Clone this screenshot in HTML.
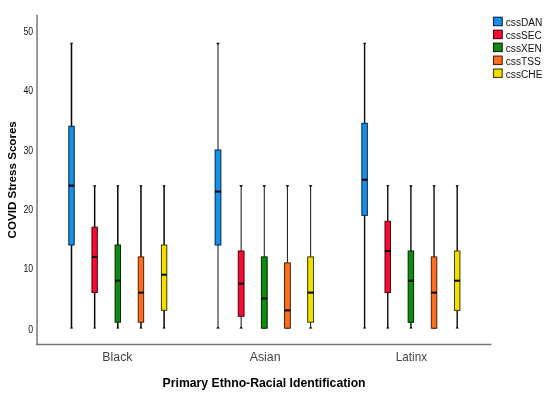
<!DOCTYPE html>
<html><head><meta charset="utf-8"><title>COVID Stress Scores</title>
<style>
html,body{margin:0;padding:0;background:#fff;}
svg{display:block;font-family:"Liberation Sans",Arial,sans-serif;}
.tk{font-size:8.7px;fill:#111;text-anchor:end;}
.cat{font-size:12px;fill:#444;text-anchor:middle;}
.ttl{font-size:12.23px;font-weight:bold;fill:#000;text-anchor:middle;}
.lg{font-size:10.15px;fill:#111;}
</style></head><body>
<svg width="550" height="395" viewBox="0 0 550 395">
<rect width="550" height="395" fill="#fff"/>
<path d="M37.05 14.7V345.1" fill="none" stroke="#8e8e8e" stroke-width="1.8"/><path d="M36.15 344.5H491.5" fill="none" stroke="#747474" stroke-width="1.3"/>
<text class="tk" transform="translate(33.2 332.55) scale(1 1.17)">0</text>
<text class="tk" transform="translate(33.2 272.45) scale(1 1.17)">10</text>
<text class="tk" transform="translate(33.2 213.35) scale(1 1.17)">20</text>
<text class="tk" transform="translate(33.2 154.35) scale(1 1.17)">30</text>
<text class="tk" transform="translate(33.2 94.45) scale(1 1.17)">40</text>
<text class="tk" transform="translate(33.2 35.45) scale(1 1.17)">50</text>
<g><path d="M71.50 43.1V328.2" stroke="#050505" stroke-width="1.5" fill="none"/><path d="M70.00 42.7H73.00L72.10 44.4H70.90ZM70.00 328.6H73.00L72.10 326.9H70.90Z" fill="#0a0a0a"/><rect x="68.80" y="126.2" width="5.4" height="118.8" fill="#1690ea" stroke="#0a2642" stroke-width="1"/><path d="M68.80 185.6H74.20" stroke="#000" stroke-width="2"/></g>
<g><path d="M94.65 185.6V328.2" stroke="#050505" stroke-width="1.5" fill="none"/><path d="M93.15 185.2H96.15L95.25 186.9H94.05ZM93.15 328.6H96.15L95.25 326.9H94.05Z" fill="#0a0a0a"/><rect x="91.95" y="227.2" width="5.4" height="65.3" fill="#fa0a32" stroke="#440610" stroke-width="1"/><path d="M91.95 256.9H97.35" stroke="#000" stroke-width="2"/></g>
<g><path d="M117.80 185.6V328.2" stroke="#050505" stroke-width="1.5" fill="none"/><path d="M116.30 185.2H119.30L118.40 186.9H117.20ZM116.30 328.6H119.30L118.40 326.9H117.20Z" fill="#0a0a0a"/><rect x="115.10" y="245.0" width="5.4" height="77.2" fill="#108a10" stroke="#062606" stroke-width="1"/><path d="M115.10 280.7H120.50" stroke="#000" stroke-width="2"/></g>
<g><path d="M140.95 185.6V328.2" stroke="#050505" stroke-width="1.5" fill="none"/><path d="M139.45 185.2H142.45L141.55 186.9H140.35ZM139.45 328.6H142.45L141.55 326.9H140.35Z" fill="#0a0a0a"/><rect x="138.25" y="256.9" width="5.4" height="65.3" fill="#fd6e1e" stroke="#4c220a" stroke-width="1"/><path d="M138.25 292.6H143.65" stroke="#000" stroke-width="2"/></g>
<g><path d="M164.10 185.6V328.2" stroke="#050505" stroke-width="1.5" fill="none"/><path d="M162.60 185.2H165.60L164.70 186.9H163.50ZM162.60 328.6H165.60L164.70 326.9H163.50Z" fill="#0a0a0a"/><rect x="161.40" y="245.0" width="5.4" height="65.3" fill="#f0e000" stroke="#403a06" stroke-width="1"/><path d="M161.40 274.7H166.80" stroke="#000" stroke-width="2"/></g>
<g><path d="M218.00 43.1V328.2" stroke="#262626" stroke-width="1.1" fill="none"/><path d="M216.10 42.7H219.90L218.60 44.4H217.40ZM216.10 328.6H219.90L218.60 326.9H217.40Z" fill="#0a0a0a"/><rect x="215.10" y="150.0" width="5.8" height="95.0" fill="#1690ea" stroke="#0a2642" stroke-width="1"/><path d="M215.10 191.6H220.90" stroke="#000" stroke-width="2"/></g>
<g><path d="M241.15 185.6V328.2" stroke="#262626" stroke-width="1.1" fill="none"/><path d="M239.25 185.2H243.05L241.75 186.9H240.55ZM239.25 328.6H243.05L241.75 326.9H240.55Z" fill="#0a0a0a"/><rect x="238.25" y="251.0" width="5.8" height="65.3" fill="#fa0a32" stroke="#440610" stroke-width="1"/><path d="M238.25 283.6H244.05" stroke="#000" stroke-width="2"/></g>
<g><path d="M264.30 185.6V328.2" stroke="#262626" stroke-width="1.1" fill="none"/><path d="M262.40 185.2H266.20L264.90 186.9H263.70ZM262.40 328.6H266.20L264.90 326.9H263.70Z" fill="#0a0a0a"/><rect x="261.40" y="256.9" width="5.8" height="71.3" fill="#108a10" stroke="#062606" stroke-width="1"/><path d="M261.40 298.5H267.20" stroke="#000" stroke-width="2"/></g>
<g><path d="M287.45 185.6V328.2" stroke="#262626" stroke-width="1.1" fill="none"/><path d="M285.55 185.2H289.35L288.05 186.9H286.85ZM285.55 328.6H289.35L288.05 326.9H286.85Z" fill="#0a0a0a"/><rect x="284.55" y="262.9" width="5.8" height="65.3" fill="#fd6e1e" stroke="#4c220a" stroke-width="1"/><path d="M284.55 310.4H290.35" stroke="#000" stroke-width="2"/></g>
<g><path d="M310.60 185.6V328.2" stroke="#262626" stroke-width="1.1" fill="none"/><path d="M308.70 185.2H312.50L311.20 186.9H310.00ZM308.70 328.6H312.50L311.20 326.9H310.00Z" fill="#0a0a0a"/><rect x="307.70" y="256.9" width="5.8" height="65.3" fill="#f0e000" stroke="#403a06" stroke-width="1"/><path d="M307.70 292.6H313.50" stroke="#000" stroke-width="2"/></g>
<g><path d="M364.60 43.1V328.2" stroke="#0a0a0a" stroke-width="1.4" fill="none"/><path d="M363.00 42.7H366.20L365.20 44.4H364.00ZM363.00 328.6H366.20L365.20 326.9H364.00Z" fill="#0a0a0a"/><rect x="361.85" y="123.3" width="5.5" height="92.1" fill="#1690ea" stroke="#0a2642" stroke-width="1"/><path d="M361.85 179.7H367.35" stroke="#000" stroke-width="2"/></g>
<g><path d="M387.75 185.6V328.2" stroke="#0a0a0a" stroke-width="1.4" fill="none"/><path d="M386.15 185.2H389.35L388.35 186.9H387.15ZM386.15 328.6H389.35L388.35 326.9H387.15Z" fill="#0a0a0a"/><rect x="385.00" y="221.3" width="5.5" height="71.3" fill="#fa0a32" stroke="#440610" stroke-width="1"/><path d="M385.00 251.0H390.50" stroke="#000" stroke-width="2"/></g>
<g><path d="M410.90 185.6V328.2" stroke="#0a0a0a" stroke-width="1.4" fill="none"/><path d="M409.30 185.2H412.50L411.50 186.9H410.30ZM409.30 328.6H412.50L411.50 326.9H410.30Z" fill="#0a0a0a"/><rect x="408.15" y="251.0" width="5.5" height="71.3" fill="#108a10" stroke="#062606" stroke-width="1"/><path d="M408.15 280.7H413.65" stroke="#000" stroke-width="2"/></g>
<g><path d="M434.05 185.6V328.2" stroke="#0a0a0a" stroke-width="1.4" fill="none"/><path d="M432.45 185.2H435.65L434.65 186.9H433.45ZM432.45 328.6H435.65L434.65 326.9H433.45Z" fill="#0a0a0a"/><rect x="431.30" y="256.9" width="5.5" height="71.3" fill="#fd6e1e" stroke="#4c220a" stroke-width="1"/><path d="M431.30 292.6H436.80" stroke="#000" stroke-width="2"/></g>
<g><path d="M457.20 185.6V328.2" stroke="#0a0a0a" stroke-width="1.4" fill="none"/><path d="M455.60 185.2H458.80L457.80 186.9H456.60ZM455.60 328.6H458.80L457.80 326.9H456.60Z" fill="#0a0a0a"/><rect x="454.45" y="251.0" width="5.5" height="59.4" fill="#f0e000" stroke="#403a06" stroke-width="1"/><path d="M454.45 280.7H459.95" stroke="#000" stroke-width="2"/></g>
<text class="cat" transform="translate(117.4 361.4) scale(1.027 1.14)">Black</text>
<text class="cat" transform="translate(265.1 361.4) scale(1.032 1.14)">Asian</text>
<text class="cat" transform="translate(411.4 361.4) scale(0.975 1.14)">Latinx</text>
<text class="ttl" x="264.1" y="386.5">Primary Ethno-Racial Identification</text>
<text class="ttl" style="font-size:11.8px" textLength="117.2" lengthAdjust="spacingAndGlyphs" transform="translate(16.4 179.8) rotate(-90)">COVID Stress Scores</text>
<rect x="493.5" y="17.25" width="8.7" height="8.4" fill="#1690ea" stroke="#0a2a48" stroke-width="1.15"/><text class="lg" transform="translate(505.8 26.30) scale(1 1.05)">cssDAN</text>
<rect x="493.5" y="30.20" width="8.7" height="8.4" fill="#fa0a32" stroke="#4a0812" stroke-width="1.15"/><text class="lg" transform="translate(505.8 39.25) scale(1 1.05)">cssSEC</text>
<rect x="493.5" y="43.15" width="8.7" height="8.4" fill="#108a10" stroke="#062a06" stroke-width="1.15"/><text class="lg" transform="translate(505.8 52.20) scale(1 1.05)">cssXEN</text>
<rect x="493.5" y="56.10" width="8.7" height="8.4" fill="#fd6e1e" stroke="#54260a" stroke-width="1.15"/><text class="lg" transform="translate(505.8 65.15) scale(1 1.05)">cssTSS</text>
<rect x="493.5" y="69.05" width="8.7" height="8.4" fill="#f0e000" stroke="#4a420a" stroke-width="1.15"/><text class="lg" transform="translate(505.8 78.10) scale(1 1.05)">cssCHE</text>
</svg>
</body></html>
